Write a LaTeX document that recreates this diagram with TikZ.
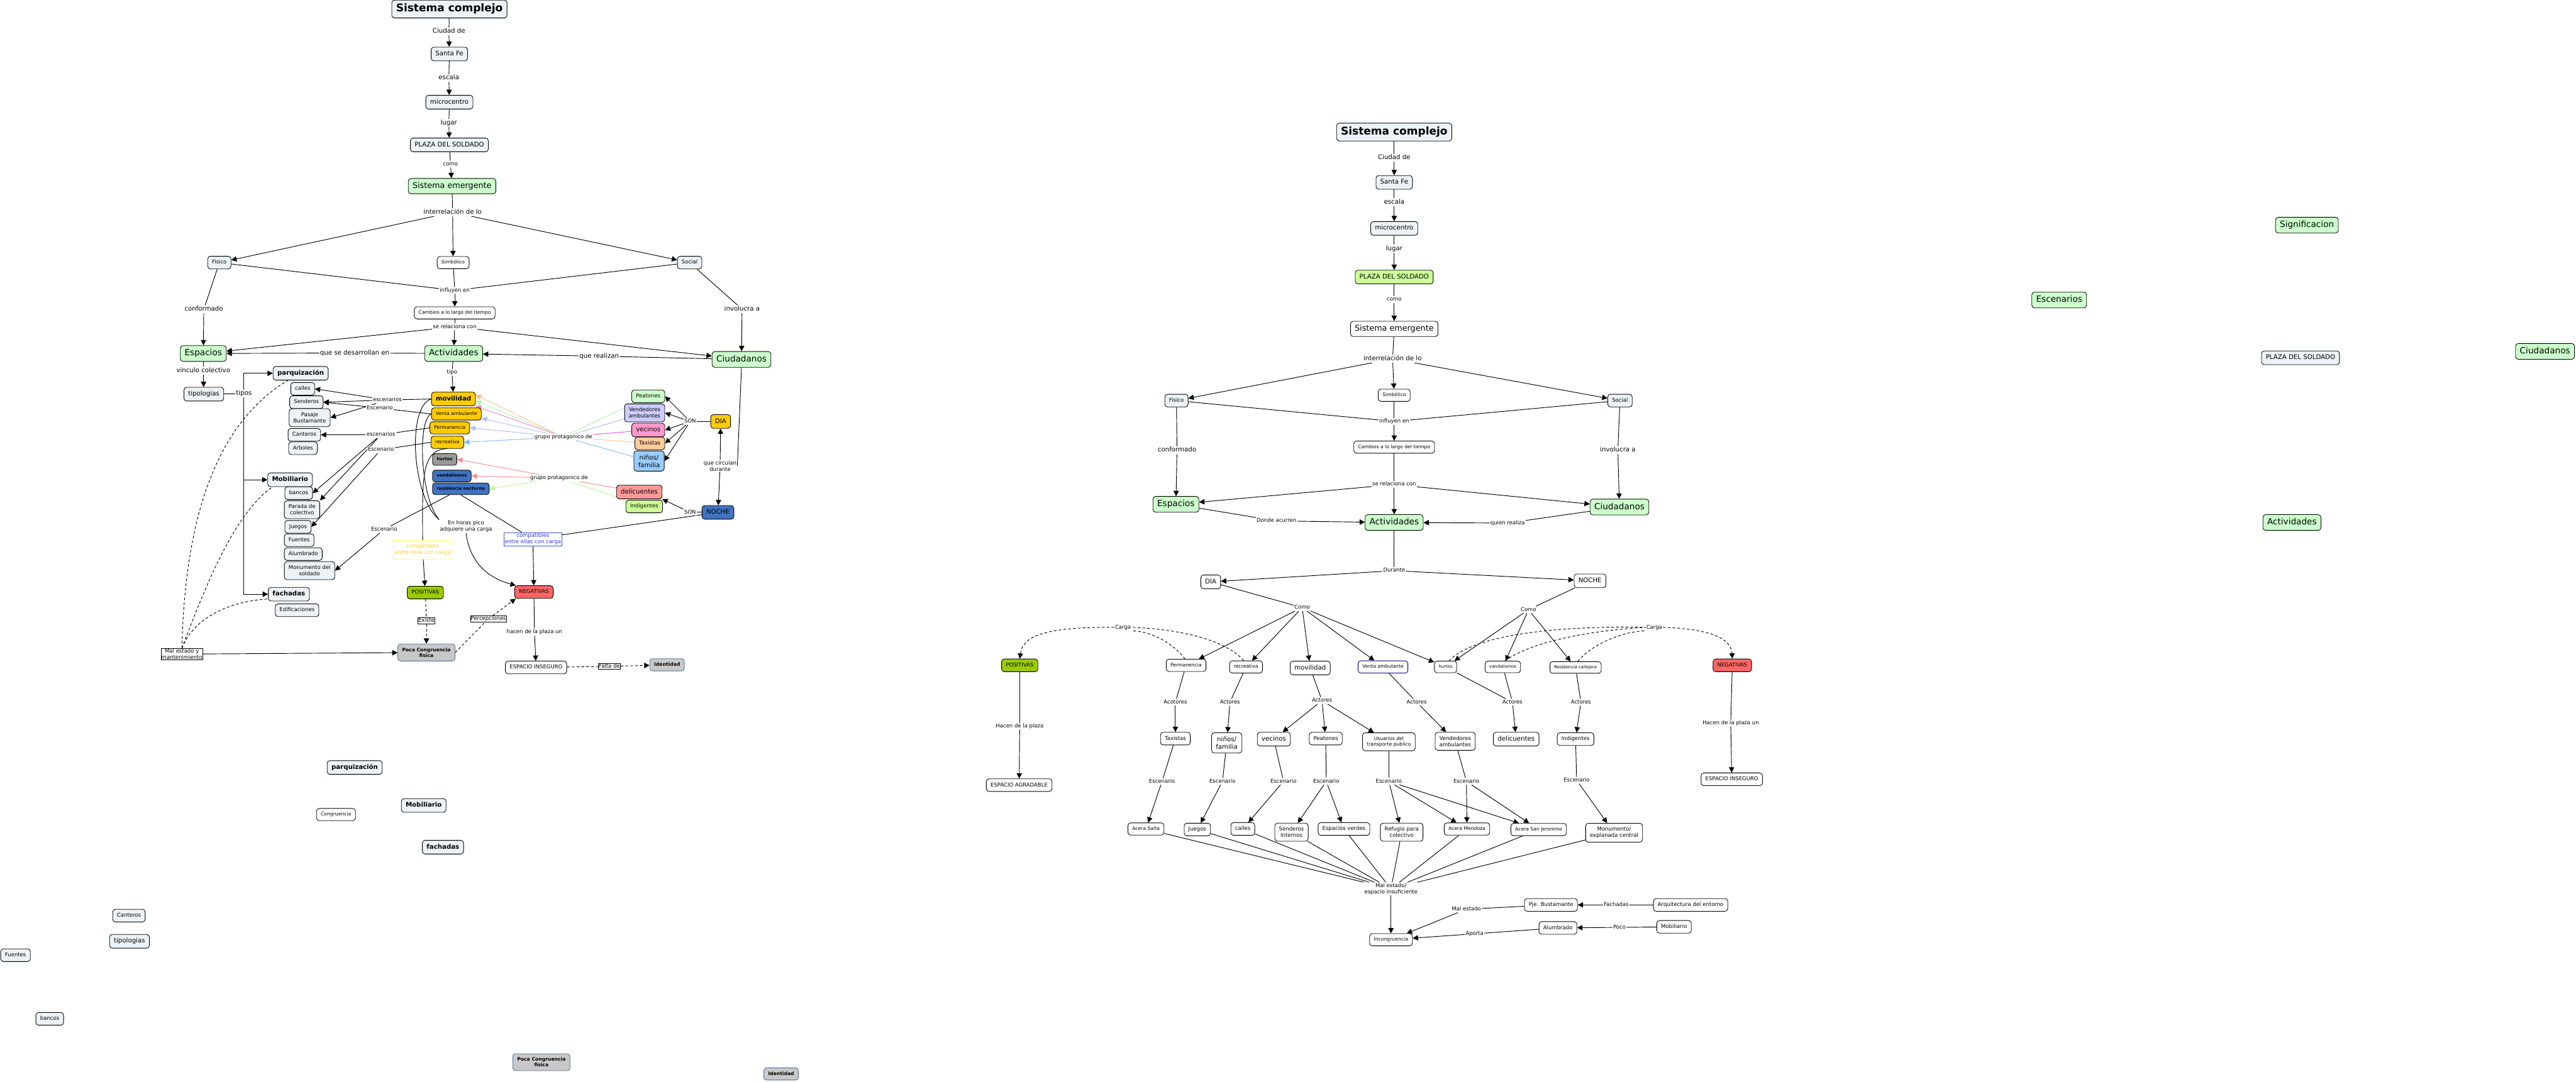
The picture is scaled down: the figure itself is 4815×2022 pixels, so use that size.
\documentclass[tikz,border=0pt]{standalone}
\usepackage{fontspec}
\setmainfont{DejaVu Sans}
\usetikzlibrary{arrows.meta}
\pgfdeclarelayer{bg}
\pgfsetlayers{bg,main}

\definecolor{cLt}{RGB}{236,242,245}
\definecolor{cGrn}{RGB}{204,255,204}
\definecolor{cLime}{RGB}{204,255,153}
\definecolor{cOra}{RGB}{255,204,0}
\definecolor{cGry}{RGB}{153,153,153}
\definecolor{cBlu}{RGB}{64,114,192}
\definecolor{cPos}{RGB}{153,204,0}
\definecolor{cNeg}{RGB}{255,102,102}
\definecolor{cLav}{RGB}{204,204,255}
\definecolor{cPink}{RGB}{255,153,204}
\definecolor{cPeach}{RGB}{255,204,153}
\definecolor{cSky}{RGB}{153,204,255}
\definecolor{cSalm}{RGB}{255,153,153}
\definecolor{cSil}{RGB}{200,200,200}
\definecolor{cSilB}{RGB}{80,110,160}
\definecolor{cNavy}{RGB}{0,0,110}
\definecolor{cYelB}{RGB}{255,255,102}
\definecolor{cYelT}{RGB}{255,204,51}
\definecolor{cBluB}{RGB}{60,90,200}
\definecolor{cBluT}{RGB}{51,51,204}
\definecolor{lPeach}{RGB}{255,190,140}
\definecolor{lGrn}{RGB}{170,245,170}
\definecolor{lMag}{RGB}{235,90,210}
\definecolor{lPink}{RGB}{245,130,200}
\definecolor{lLav}{RGB}{185,185,250}
\definecolor{lSky}{RGB}{130,185,250}
\definecolor{lSalm}{RGB}{250,140,140}
\definecolor{lLime}{RGB}{190,250,140}

\tikzset{
  f8/.style={font=\fontsize{4}{4.8}\selectfont, text height=3pt, text depth=0.9pt},
  f9/.style={font=\fontsize{4.5}{5.4}\selectfont, text height=3.4pt, text depth=1pt},
  f10/.style={font=\fontsize{5}{6}\selectfont, text height=3.75pt, text depth=1.1pt},
  f12/.style={font=\fontsize{6}{7.2}\selectfont, text height=4.5pt, text depth=1.3pt},
  f15/.style={font=\fontsize{7.5}{9}\selectfont, text height=5.6pt, text depth=1.65pt},
  f16/.style={font=\fontsize{8}{9.6}\selectfont, text height=6pt, text depth=1.75pt},
  f20/.style={font=\fontsize{10}{12}\selectfont, text height=7.5pt, text depth=2.2pt},
  ml/.style={text height={}, text depth={}},
  conc/.style={draw, rounded corners=2.5pt, fill=cLt, inner xsep=4pt, inner ysep=3.5pt,
    align=center, line width=0.5pt},
  lbl/.style={fill=white, inner sep=0.6pt, align=center},
  bxl/.style={lbl, draw, line width=0.4pt, inner sep=0.4pt},
  ln/.style={line width=0.55pt},
  ar/.style={ln, -{Triangle[length=5pt,width=5pt]}},
  dsh/.style={ln, dash pattern=on 2.5pt off 2pt},
  dar/.style={dsh, -{Triangle[length=5pt,width=5pt]}},
}

\begin{document}
\begin{tikzpicture}[x=0.5pt,y=-0.5pt]
  \useasboundingbox (0,0) rectangle (4815,2022);

  % ---- first map: trunk
  \node[conc,f20] (sc1) at (840,17) {\textbf{Sistema complejo}};
  \node[lbl,f12] (kcd1) at (839,59) {Ciudad de};
  \node[conc,f12] (sf1) at (840,101) {Santa Fe};
  \node[lbl,f12] (kec1) at (839,146) {escala};
  \node[conc,f12] (mc1) at (840,191) {microcentro};
  \node[lbl,f12] (klg1) at (839,230) {lugar};
  \node[conc,f12] (pl1) at (840,271) {PLAZA DEL SOLDADO};
  \node[lbl,f10] (kcm1) at (842,307) {como};
  \node[conc,f15,fill=cGrn] (se1) at (845,348) {Sistema emergente};
  \node[lbl,f12] (kir1) at (846,397) {interrelación de lo};
  \node[conc,f10] (fi1) at (410,491) {Fisico};
  \node[conc,f9,fill=white] (si1) at (847,491) {Simbólico};
  \node[conc,f10] (so1) at (1289,491) {Social};
  \node[lbl,f10] (kif1) at (850,543) {influyen en};
  \node[conc,f9,fill=white] (ca1) at (850,585) {Cambios a lo largo del tiempo};
  \node[lbl,f12] (kcf1) at (381,578) {conformado};
  \node[lbl,f12] (kiv1) at (1387,578) {involucra a};
  \node[lbl,f10] (ksr1) at (850,611) {se relaciona con};
  \node[conc,f16,fill=cGrn] (es1) at (380,661) {Espacios};
  \node[conc,f16,fill=cGrn] (ac1) at (848,661) {Actividades};
  \node[conc,f16,fill=cGrn] (ci1) at (1386,672) {Ciudadanos};
  \node[lbl,f12] (kqd1) at (663,660) {que se desarrollan en};
  \node[lbl,f12] (kqr1) at (1120,666) {que realizan};
  \node[lbl,f12] (kvc1) at (380,693) {vinculo colectivo};
  \node[lbl,f10] (kti1) at (845,696) {tipo};
  \node[conc,f12] (tp1) at (381,737) {tipologias};
  \node[lbl,f12] (ktp1) at (456,736) {tipos};

  % spaces
  \node[conc,f12,anchor=west] (pq1) at (510,698) {\textbf{parquización}};
  \node[conc,f10,anchor=west] (cl1) at (543,727) {calles};
  \node[conc,f10,anchor=west] (sd1) at (541,752) {Senderos};
  \node[conc,f10,ml,anchor=west] (pb1) at (540,781) {Pasaje\\Bustamante};
  \node[conc,f10,anchor=west] (ct1) at (538,813) {Canteros};
  \node[conc,f10,anchor=west] (ab1) at (539,838) {Arboles};
  \node[conc,f12,anchor=west] (mo1) at (500,897) {\textbf{Mobiliario}};
  \node[conc,f10,anchor=west] (bc1) at (532,922) {bancos};
  \node[conc,f10,ml,anchor=west] (pc1) at (531,953) {Parada de\\colectivo};
  \node[conc,f10,anchor=west] (jg1) at (532,985) {Juegos};
  \node[conc,f10,anchor=west] (fu1) at (531,1010) {Fuentes};
  \node[conc,f10,anchor=west] (al1) at (531,1036) {Alumbrado};
  \node[conc,f10,ml,anchor=west] (ms1) at (531,1067) {Monumento del\\soldado};
  \node[conc,f12,anchor=west] (fa1) at (501,1111) {\textbf{fachadas}};
  \node[conc,f10,anchor=west] (ed1) at (514,1141) {Edificaciones};

  % activities
  \node[conc,f12,fill=cOra,anchor=west] (mv1) at (806,746) {\textbf{movilidad}};
  \node[conc,f9,fill=cOra,anchor=west] (va1) at (806,774) {Venta ambulante};
  \node[conc,f9,fill=cOra,anchor=west] (pm1) at (803,800) {Permanencia};
  \node[conc,f9,fill=cOra,anchor=west] (rc1) at (805,827) {recreativa};
  \node[conc,f8,fill=cGry,anchor=west] (hu1) at (808,859) {\textbf{hurtos}};
  \node[conc,f8,fill=cBlu,anchor=west] (vd1) at (808,890) {\textbf{vandalismos}};
  \node[conc,f8,fill=cBlu,anchor=west] (rn1) at (808,914) {\textbf{residencia nocturna}};
  \node[lbl,f10] (kes1) at (724,748) {escenarios};
  \node[lbl,f10] (kes2) at (710,763) {Escenario};
  \node[lbl,f10] (kes3) at (712,813) {escenarios};
  \node[lbl,f10] (kes4) at (712,841) {Escenario};
  \node[lbl,f10] (kes5) at (718,990) {Escenario};

  % actors
  \node[conc,f10,fill=cGrn,anchor=east] (pt1) at (1243,741) {Peatones};
  \node[conc,f10,ml,fill=cLav,anchor=east] (vn1) at (1243,772) {Vendedores\\ambulantes};
  \node[conc,f12,fill=cPink,anchor=east] (vc1) at (1243,804) {vecinos};
  \node[conc,f10,fill=cPeach,anchor=east] (tx1) at (1243,829) {Taxistas};
  \node[conc,f12,ml,fill=cSky,anchor=east] (nf1) at (1242,862) {niños/\\familia};
  \node[conc,f12,fill=cSalm,anchor=east] (dl1) at (1238,920) {delicuentes};
  \node[conc,f10,fill=cLime,anchor=east] (ig1) at (1239,947) {Indigentes};
  \node[conc,f12,fill=cOra] (di1) at (1347,788) {DIA};
  \node[conc,f12,fill=cBlu] (no1) at (1342,958) {NOCHE};
  \node[lbl,f10] (kso1) at (1290,788) {SON};
  \node[lbl,f10] (kso2) at (1290,958) {SON};
  \node[lbl,f10,ml] (kcir) at (1346,871) {que circulan\\durante};
  \node[lbl,f10] (kgr1) at (1053,817) {grupo protagonico de};
  \node[lbl,f10] (kgr2) at (1045,894) {grupo protagonico de};

  % charges
  \node[draw=cYelB,text=cYelT,fill=white,f10,ml,align=center,inner xsep=1pt,inner ysep=3.5pt] (ycp) at (790,1028) {compatibles\\entre ellas con carga};
  \node[draw=cBluB,text=cBluT,fill=white,f10,ml,align=center,inner sep=0.8pt] (bcp) at (996,1008) {compatibles\\entre ellas con carga};
  \node[lbl,f10,ml] (khp) at (871,984) {En horas pico\\adquiere una carga};
  \node[conc,f10,fill=cPos] (po1) at (795,1108) {POSITIVAS};
  \node[conc,f10,fill=cNeg] (ne1) at (998,1107) {NEGATIVAS};
  \node[bxl,f10] (kex) at (797,1161) {Existe};
  \node[bxl,f10] (kpe) at (913,1157) {Percepciones};
  \node[lbl,f10] (khc1) at (999,1182) {hacen de la plaza un};
  \node[conc,f10,fill=white] (ei1) at (1002,1248) {ESPACIO INSEGURO};
  \node[bxl,f10] (kfd) at (1139,1246) {Falta de};
  \node[conc,f9,fill=cSil,draw=cSilB] (id1) at (1247,1243) {\textbf{Identidad}};
  \node[conc,f9,ml,fill=cSil,draw=cSilB] (pf1) at (797,1220) {\textbf{Poca Congruencia}\\\textbf{fisica}};
  \node[draw,fill=white,f10,ml,align=center,inner sep=0.3pt] (me1) at (340,1223) {Mal estado y\\mantenimiento};

  % loose concepts
  \node[conc,f12] (pq0) at (663,1435) {\textbf{parquización}};
  \node[conc,f12] (mo0) at (792,1506) {\textbf{Mobiliario}};
  \node[conc,f9,fill=white] (cg0) at (628,1523) {Congruencia};
  \node[conc,f12] (fa0) at (828,1584) {\textbf{fachadas}};
  \node[conc,f10] (ct0) at (241,1712) {Canteros};
  \node[conc,f12] (tp0) at (242,1760) {tipologias};
  \node[conc,f10] (fu0) at (29,1786) {Fuentes};
  \node[conc,f10] (bc0) at (93,1905) {bancos};
  \node[conc,f9,ml,fill=cSil,draw=cSilB] (pf0) at (1012,1986) {\textbf{Poca Congruencia}\\\textbf{fisica}};
  \node[conc,f9,fill=cSil,draw=cSilB] (id0) at (1460,2008) {\textbf{Identidad}};
  \node[conc,f16,fill=cGrn] (sg0) at (4312,421) {Significacion};
  \node[conc,f16,fill=cGrn] (en0) at (3849,561) {Escenarios};
  \node[conc,f12] (pl0) at (4300,669) {PLAZA DEL SOLDADO};
  \node[conc,f16,fill=cGrn] (ci0) at (4757,657) {Ciudadanos};
  \node[conc,f16,fill=cGrn] (ac0) at (4284,977) {Actividades};

  % ---- second map
  \node[conc,f20] (sc2) at (2606,247) {\textbf{Sistema complejo}};
  \node[lbl,f12] (kcd2) at (2606,295) {Ciudad de};
  \node[conc,f12] (sf2) at (2606,341) {Santa Fe};
  \node[lbl,f12] (kec2) at (2606,378) {escala};
  \node[conc,f12] (mc2) at (2606,427) {microcentro};
  \node[lbl,f12] (klg2) at (2606,465) {lugar};
  \node[conc,f12,fill=cLime] (pl2) at (2606,518) {PLAZA DEL SOLDADO};
  \node[lbl,f10] (kcm2) at (2606,560) {como};
  \node[conc,f15,fill=white] (se2) at (2606,615) {Sistema emergente};
  \node[lbl,f12] (kir2) at (2603,671) {interrelación de lo};
  \node[conc,f10] (fi2) at (2199,749) {Fisico};
  \node[conc,f9,fill=white] (si2) at (2606,739) {Simbólico};
  \node[conc,f10] (so2) at (3028,749) {Social};
  \node[lbl,f10] (kif2) at (2606,788) {influyen en};
  \node[conc,f9,fill=white] (ca2) at (2606,836) {Cambios a lo largo del tiempo};
  \node[lbl,f12] (kcf2) at (2200,842) {conformado};
  \node[lbl,f12] (kiv2) at (3024,842) {involucra a};
  \node[lbl,f10] (ksr2) at (2606,906) {se relaciona con};
  \node[conc,f16,fill=cGrn] (es2) at (2198,943) {Espacios};
  \node[conc,f16,fill=cGrn] (ac2) at (2606,977) {Actividades};
  \node[conc,f16,fill=cGrn] (ci2) at (3027,948) {Ciudadanos};
  \node[lbl,f10] (kda2) at (2386,974) {Donde acurren};
  \node[lbl,f10] (kqr2) at (2818,978) {quien realiza};
  \node[lbl,f10] (kdu2) at (2606,1067) {Durante};
  \node[conc,f12,fill=white] (di2) at (2263,1088) {DIA};
  \node[conc,f12,fill=white] (no2) at (2972,1086) {NOCHE};
  \node[lbl,f10] (kco2) at (2434,1136) {Como};
  \node[lbl,f10] (kco3) at (2857,1140) {Como};
  \node[lbl,f10] (kcg2) at (2099,1173) {Carga};
  \node[lbl,f10] (kcg3) at (3092,1173) {Carga};
  \node[conc,f10,fill=cPos] (po2) at (1906,1244) {POSITIVAS};
  \node[conc,f9,fill=white] (pm2) at (2217,1244) {Permanencia};
  \node[conc,f9,fill=white] (rc2) at (2329,1247) {recreativa};
  \node[conc,f12,fill=white] (mv2) at (2449,1249) {movilidad};
  \node[conc,f9,fill=white,draw=cNavy] (va2) at (2585,1247) {Venta ambulante};
  \node[conc,f8,fill=white] (hu2) at (2702,1247) {hurtos};
  \node[conc,f8,fill=white] (vd2) at (2809,1247) {vandalismos};
  \node[conc,f8,fill=white] (rs2) at (2945,1248) {Residencia callejera};
  \node[conc,f10,fill=cNeg] (ne2) at (3238,1244) {NEGATIVAS};
  \node[lbl,f10] (kac1) at (2197,1313) {Acotores};
  \node[lbl,f10] (kac2) at (2299,1313) {Actores};
  \node[lbl,f10] (kac3) at (2471,1310) {Actores};
  \node[lbl,f10] (kac4) at (2648,1313) {Actores};
  \node[lbl,f10] (kac5) at (2827,1313) {Actores};
  \node[lbl,f10] (kac6) at (2955,1313) {Actores};
  \node[lbl,f10] (khp2) at (1906,1358) {Hacen de la plaza};
  \node[lbl,f10] (khu2) at (3235,1352) {Hacen de la plaza un};
  \node[conc,f10,fill=white] (tx2) at (2197,1381) {Taxistas};
  \node[conc,f12,ml,fill=white] (nf2) at (2293,1389) {niños/\\familia};
  \node[conc,f12,fill=white] (vc2) at (2381,1382) {vecinos};
  \node[conc,f10,fill=white] (pt2) at (2478,1381) {Peatones};
  \node[conc,f9,ml,fill=white] (us2) at (2596,1387) {Usuarios del\\transporte publico};
  \node[conc,f10,ml,fill=white] (vn2) at (2720,1386) {Vendedores\\ambulantes};
  \node[conc,f12,fill=white] (dl2) at (2834,1382) {delicuentes};
  \node[conc,f10,fill=white] (ig2) at (2945,1382) {Indigentes};
  \node[conc,f10,fill=white] (ag2) at (1905,1468) {ESPACIO AGRADABLE};
  \node[conc,f10,fill=white] (ei2) at (3237,1457) {ESPACIO INSEGURO};
  \node[lbl,f10] (ks1) at (2172,1461) {Escenario};
  \node[lbl,f10] (ks2) at (2285,1461) {Escenario};
  \node[lbl,f10] (ks3) at (2399,1461) {Escenario};
  \node[lbl,f10] (ks4) at (2479,1461) {Escenario};
  \node[lbl,f10] (ks5) at (2596,1461) {Escenario};
  \node[lbl,f10] (ks6) at (2741,1461) {Escenario};
  \node[lbl,f10] (ks7) at (2947,1459) {Escenario};
  \node[conc,f9,fill=white] (sa2) at (2142,1550) {Acera Salta};
  \node[conc,f10,fill=white] (jg2) at (2238,1551) {Juegos};
  \node[conc,f10,fill=white] (cl2) at (2323,1550) {calles};
  \node[conc,f10,ml,fill=white] (sd2) at (2414,1556) {Senderos\\Internos};
  \node[conc,f10,fill=white] (ev2) at (2512,1550) {Espacios verdes};
  \node[conc,f10,ml,fill=white] (rf2) at (2620,1556) {Refugio para\\colectivo};
  \node[conc,f9,fill=white] (am2) at (2742,1550) {Acera Mendoza};
  \node[conc,f9,fill=white] (aj2) at (2876,1551) {Acera San jeronimo};
  \node[conc,f10,ml,fill=white] (mx2) at (3017,1557) {Monumento/\\explanada central};
  \node[lbl,f10,ml] (kms2) at (2600,1662) {Mal estado/\\espacio insuficiente};
  \node[conc,f9,fill=white] (ic2) at (2600,1757) {Incongruencia};
  \node[conc,f10,fill=white] (pj2) at (2899,1692) {Pje. Bustamante};
  \node[conc,f10,fill=white] (aq2) at (3160,1692) {Arquitectura del entorno};
  \node[lbl,f10] (kfc2) at (3021,1692) {Fachadas};
  \node[lbl,f10] (kme2) at (2741,1700) {Mal estado};
  \node[conc,f10,fill=white] (au2) at (2912,1735) {Alumbrado};
  \node[conc,f10,fill=white] (mb2) at (3129,1733) {Mobiliario};
  \node[lbl,f10] (kpo2) at (3027,1734) {Poco};
  \node[lbl,f10] (kap2) at (2756,1746) {Aporta};

  \begin{pgfonlayer}{bg}
    \fill[white] (0,0) rectangle (4815,2022);
    % first map links
    \draw[ln] (sc1) -- (kcd1); \draw[ar] (kcd1) -- (sf1);
    \draw[ln] (sf1) -- (kec1); \draw[ar] (kec1) -- (mc1);
    \draw[ln] (mc1) -- (klg1); \draw[ar] (klg1) -- (pl1);
    \draw[ln] (pl1) -- (kcm1); \draw[ar] (kcm1) -- (se1);
    \draw[ln] (se1) -- (kir1);
    \foreach \t in {fi1,si1,so1} \draw[ar] (kir1) -- (\t);
    \foreach \s in {fi1,si1,so1} \draw[ln] (\s) -- (kif1);
    \draw[ar] (kif1) -- (ca1);
    \draw[ln] (fi1) -- (kcf1); \draw[ar] (kcf1) -- (es1);
    \draw[ln] (so1) -- (kiv1); \draw[ar] (kiv1) -- (ci1);
    \draw[ln] (ca1) -- (ksr1);
    \foreach \t in {es1,ac1,ci1} \draw[ar] (ksr1) -- (\t);
    \draw[ln] (ac1) -- (kqd1); \draw[ar] (kqd1) -- (es1);
    \draw[ln] (ci1) -- (kqr1); \draw[ar] (kqr1) -- (ac1);
    \draw[ln] (es1) -- (kvc1); \draw[ar] (kvc1) -- (tp1);
    \draw[ln] (tp1) -- (ktp1);
    \foreach \t in {pq1,mo1,fa1} \draw[ar] (ktp1.center) |- (\t.west);
    \draw[ln] (ac1) -- (kti1); \draw[ar] (kti1) -- (mv1);
    \draw[ln] (mv1.west) -- (kes1);
    \foreach \t in {cl1,sd1,pb1} \draw[ar] (kes1) -- (\t.east);
    \draw[ln] (va1.west) -- (kes2); \draw[ar] (kes2) -- (sd1.east);
    \draw[ln] (pm1.west) -- (kes3);
    \draw[ar] (kes3) -- (ct1.east); \draw[ar] (kes3) -- (bc1.east);
    \draw[ar] (kes3) -- (pc1.north east);
    \draw[ln] (rc1.west) -- (kes4); \draw[ar] (kes4) -- (jg1.east);
    \draw[ln] (rn1.208) -- (kes5); \draw[ar] (kes5) -- (ms1.east);
    % who does what
    \draw[ln,color=lPeach] (tx1) -- (kgr1); \draw[ar,color=lPeach] (kgr1) -- (mv1.10);
    \draw[ln,color=lGrn] (pt1) -- (kgr1); \draw[ar,color=lGrn] (kgr1) -- (mv1.-5);
    \draw[ln,color=lMag] (vc1) -- (kgr1); \draw[ar,color=lPink] (kgr1) -- (mv1.south east);
    \draw[ln,color=lLav] (vn1) -- (kgr1);
    \draw[ar,color=lLav] (kgr1) -- (va1.-10); \draw[ar,color=lLav] (kgr1) -- (pm1.east);
    \draw[ln,color=lSky] (nf1) -- (kgr1); \draw[ar,color=lSky] (kgr1) -- (rc1.east);
    \draw[ln,color=lSalm] (dl1) -- (kgr2);
    \draw[ar,color=lSalm] (kgr2) -- (hu1.east); \draw[ar,color=lSalm] (kgr2) -- (vd1.east);
    \draw[ln,color=lLime] (ig1.north west) -- (kgr2); \draw[ar,color=lLime] (kgr2) -- (rn1.east);
    \draw[ln] (ci1.south) -- (kcir.east);
    \draw[ar] (kcir) -- (di1); \draw[ar] (kcir) -- (no1);
    \draw[ln] (di1) -- (kso1);
    \foreach \t in {pt1,vn1,vc1,tx1,nf1} \draw[ar] (kso1) -- (\t.east);
    \draw[ln] (no1) -- (kso2); \draw[ar] (kso2) -- (dl1.south east);
    % charges
    \draw[ln] (no1) -- (bcp); \draw[ln] (rn1.south) -- (bcp);
    \draw[ar] (bcp) -- (ne1);
    \draw[ln] (rc1.south) .. controls (785,840) and (790,900) .. (ycp.north);
    \draw[ar] (ycp) -- (po1);
    \draw[ln] (mv1.west) .. controls (760,760) and (770,930) .. (khp.north west);
    \draw[ln] (va1.west) .. controls (780,785) and (785,930) .. (khp.north west);
    \draw[ar] (khp.south) .. controls (878,1050) and (910,1080) .. (ne1.160);
    \draw[dsh] (me1.north) .. controls (345,1000) and (390,800) .. (pq1.209);
    \draw[dsh] (me1.north) .. controls (390,1080) and (440,960) .. (mo1.202);
    \draw[dsh] (me1.north) .. controls (360,1160) and (420,1125) .. (fa1.193);
    \draw[ar] (me1) -- (pf1);
    \draw[dsh] (po1) -- (kex); \draw[dar] (kex) -- (pf1);
    \draw[dsh] (pf1.east) -- (kpe); \draw[dar] (kpe) -- (ne1.200);
    \draw[ln] (ne1) -- (khc1); \draw[ar] (khc1) -- (ei1);
    \draw[dsh] (ei1) -- (kfd); \draw[dar] (kfd) -- (id1);

    % second map links
    \draw[ln] (sc2) -- (kcd2); \draw[ar] (kcd2) -- (sf2);
    \draw[ln] (sf2) -- (kec2); \draw[ar] (kec2) -- (mc2);
    \draw[ln] (mc2) -- (klg2); \draw[ar] (klg2) -- (pl2);
    \draw[ln] (pl2) -- (kcm2); \draw[ar] (kcm2) -- (se2);
    \draw[ln] (se2) -- (kir2);
    \foreach \t in {fi2,si2,so2} \draw[ar] (kir2) -- (\t);
    \foreach \s in {fi2,si2,so2} \draw[ln] (\s) -- (kif2);
    \draw[ar] (kif2) -- (ca2);
    \draw[ln] (fi2) -- (kcf2); \draw[ar] (kcf2) -- (es2);
    \draw[ln] (so2) -- (kiv2); \draw[ar] (kiv2) -- (ci2);
    \draw[ln] (ca2) -- (ksr2);
    \foreach \t in {es2,ac2,ci2} \draw[ar] (ksr2) -- (\t);
    \draw[ln] (es2) -- (kda2); \draw[ar] (kda2) -- (ac2);
    \draw[ln] (ci2) -- (kqr2); \draw[ar] (kqr2) -- (ac2);
    \draw[ln] (ac2) -- (kdu2);
    \draw[ar] (kdu2) -- (di2); \draw[ar] (kdu2) -- (no2);
    \draw[ln] (di2) -- (kco2);
    \foreach \t in {pm2,rc2,mv2,va2,hu2} \draw[ar] (kco2) -- (\t);
    \draw[ln] (no2) -- (kco3);
    \foreach \t in {hu2,vd2,rs2} \draw[ar] (kco3) -- (\t);
    \draw[dsh] (pm2.100) .. controls (2190,1200) and (2150,1180) .. (kcg2.south east);
    \draw[dsh] (rc2.110) .. controls (2290,1195) and (2200,1176) .. (kcg2.east);
    \draw[dar] (kcg2.west) .. controls (1950,1172) and (1912,1190) .. (po2.north);
    \draw[dsh] (hu2.60) .. controls (2760,1180) and (2950,1170) .. (kcg3.west);
    \draw[dsh] (vd2.70) .. controls (2870,1195) and (2990,1178) .. (kcg3.west);
    \draw[dsh] (rs2.70) .. controls (2980,1200) and (3040,1180) .. (kcg3.south west);
    \draw[dar] (kcg3.east) .. controls (3200,1176) and (3236,1195) .. (ne2.north);
    \draw[ln] (po2) -- (khp2); \draw[ar] (khp2) -- (ag2);
    \draw[ln] (ne2) -- (khu2); \draw[ar] (khu2) -- (ei2);
    \draw[ln] (pm2) -- (kac1); \draw[ar] (kac1) -- (tx2);
    \draw[ln] (rc2) -- (kac2); \draw[ar] (kac2) -- (nf2);
    \draw[ln] (mv2) -- (kac3);
    \foreach \t in {vc2,pt2,us2} \draw[ar] (kac3) -- (\t);
    \draw[ln] (va2) -- (kac4); \draw[ar] (kac4) -- (vn2);
    \draw[ln] (hu2) -- (kac5); \draw[ln] (vd2) -- (kac5); \draw[ar] (kac5) -- (dl2);
    \draw[ln] (rs2) -- (kac6); \draw[ar] (kac6) -- (ig2);
    \draw[ln] (tx2) -- (ks1); \draw[ar] (ks1) -- (sa2);
    \draw[ln] (nf2) -- (ks2); \draw[ar] (ks2) -- (jg2);
    \draw[ln] (vc2) -- (ks3); \draw[ar] (ks3) -- (cl2);
    \draw[ln] (pt2) -- (ks4); \draw[ar] (ks4) -- (sd2); \draw[ar] (ks4) -- (ev2);
    \draw[ln] (us2) -- (ks5);
    \foreach \t in {rf2,am2,aj2} \draw[ar] (ks5) -- (\t);
    \draw[ln] (vn2) -- (ks6); \draw[ar] (ks6) -- (am2); \draw[ar] (ks6) -- (aj2);
    \draw[ln] (ig2) -- (ks7); \draw[ar] (ks7) -- (mx2);
    \foreach \s in {sa2,jg2,cl2,sd2,ev2,rf2,am2,aj2,mx2} \draw[ln] (\s) -- (kms2);
    \draw[ar] (kms2) -- (ic2);
    \draw[ln] (aq2) -- (kfc2); \draw[ar] (kfc2) -- (pj2);
    \draw[ln] (pj2) -- (kme2); \draw[ar] (kme2) -- (ic2);
    \draw[ln] (mb2) -- (kpo2); \draw[ar] (kpo2) -- (au2);
    \draw[ln] (au2) -- (kap2); \draw[ar] (kap2) -- (ic2);
  \end{pgfonlayer}
\end{tikzpicture}
\end{document}
